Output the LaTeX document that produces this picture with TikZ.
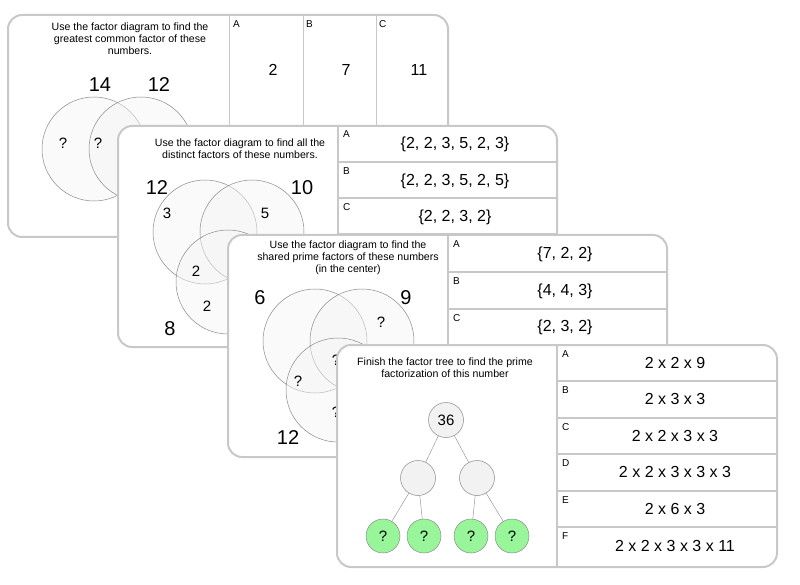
\documentclass[tikz,border=0pt]{standalone}
\usepackage{fontspec}
\setmainfont{Liberation Sans}
\usetikzlibrary{positioning}
\definecolor{cardline}{HTML}{C8C8C8}
\definecolor{ringline}{HTML}{8A8A8A}
\definecolor{leafgreen}{HTML}{98F59A}
\tikzset{card/.style={draw=cardline,line width=2pt,rounded corners=14pt,fill=white},
  sep/.style={draw=cardline,line width=1.6pt},
  colsep/.style={draw=cardline,line width=0.8pt},
  title/.style={align=center,font=\fontsize{10.6}{12}\selectfont,inner sep=0pt},
  letter/.style={anchor=north west,font=\fontsize{10}{10}\selectfont,inner sep=0pt},
  answer/.style={font=\fontsize{16}{18}\selectfont,inner sep=0pt},
  big/.style={font=\fontsize{20}{22}\selectfont,inner sep=0pt},
  qmark/.style={font=\fontsize{15}{16}\selectfont,inner sep=0pt},
  ring/.style={circle,draw=ringline,line width=0.5pt,fill=black!4,fill opacity=0.45,text opacity=1},
  treenode/.style={circle,draw=ringline,line width=0.5pt,fill=black!5,minimum size=35pt,inner sep=0pt,font=\fontsize{15}{16}\selectfont},
  leaf/.style={treenode,fill=leafgreen,minimum size=34pt}}
\begin{document}
\begin{tikzpicture}[x=1pt,y=-1pt]
    \useasboundingbox (0,0) rectangle (800,585);

    % card one
    \draw[card] (8,15) rectangle (448,237);
    \draw[colsep] (229,15) -- (229,237);
    \draw[colsep] (303,15) -- (303,237);
    \draw[colsep] (376,15) -- (376,237);
    \node[title] (title1) at (130,39) {Use the factor diagram to find the\\greatest common factor of these\\numbers.};
    \node[ring,minimum size=104pt] (left1) at (94,149) {};
    \node[ring,minimum size=104pt] (right1) at (141,149) {};
    \node[big] (num14) at (100,85) {14};
    \node[big] (num12) at (159,85) {12};
    \node[qmark] (q11) at (63,143) {?};
    \node[qmark] (q12) at (98,143) {?};
    \node[letter] (a1) at (233,20) {A};
    \node[letter] (b1) at (306,20) {B};
    \node[letter] (c1) at (379,20) {C};
    \node[answer] (v1a) at (273,70) {2};
    \node[answer] (v1b) at (346,70) {7};
    \node[answer] (v1c) at (419,70) {11};

    % card two
    \draw[card] (118,126) rectangle (557,347);
    \draw[sep] (338,126) -- (338,347);
    \draw[sep] (338,162) -- (557,162);
    \draw[sep] (338,198) -- (557,198);
    \draw[sep] (338,234) -- (557,234);
    \node[title] (title2) at (240,149) {Use the factor diagram to find all the\\distinct factors of these numbers.};
    \node[ring,minimum size=104pt] (left2) at (205,232) {};
    \node[ring,minimum size=104pt] (right2) at (252,232) {};
    \node[ring,minimum size=104pt] (low2) at (228,282) {};
    \node[big] (num12b) at (157,188) {12};
    \node[big] (num10) at (302,188) {10};
    \node[qmark] (n3) at (167,213) {3};
    \node[qmark] (n5) at (265,213) {5};
    \node[qmark] (n2a) at (196,271) {2};
    \node[qmark] (n2b) at (207,306) {2};
    \node[big] (num8) at (170,329) {8};
    \node[letter] (a2) at (343,130) {A};
    \node[letter] (b2) at (343,167) {B};
    \node[letter] (c2) at (343,203) {C};
    \node[answer] (v2a) at (455,144) {\{2, 2, 3, 5, 2, 3\}};
    \node[answer] (v2b) at (455,181) {\{2, 2, 3, 5, 2, 5\}};
    \node[answer] (v2c) at (455,217) {\{2, 2, 3, 2\}};

    % card three
    \draw[card] (228,235) rectangle (667,457);
    \draw[sep] (448,235) -- (448,457);
    \draw[sep] (448,272) -- (667,272);
    \draw[sep] (448,309) -- (667,309);
    \draw[sep] (448,346) -- (667,346);
    \node[title] (title3) at (348,258) {Use the factor diagram to find the\\shared prime factors of these numbers\\(in the center)};
    \node[ring,minimum size=104pt] (left3) at (315,341) {};
    \node[ring,minimum size=104pt] (right3) at (362,341) {};
    \node[ring,minimum size=104pt] (low3) at (338,390) {};
    \node[big] (num6) at (260,298) {6};
    \node[big] (num9) at (406,298) {9};
    \node[qmark] (q31) at (381,322) {?};
    \node[qmark] (q32) at (336,360) {?};
    \node[qmark] (q33) at (298,381) {?};
    \node[qmark] (q34) at (336,412) {?};
    \node[big] (num12c) at (288,438) {12};
    \node[letter] (a3) at (453,240) {A};
    \node[letter] (b3) at (453,277) {B};
    \node[letter] (c3) at (453,314) {C};
    \node[answer] (v3a) at (565,254) {\{7, 2, 2\}};
    \node[answer] (v3b) at (565,291) {\{4, 4, 3\}};
    \node[answer] (v3c) at (565,327) {\{2, 3, 2\}};

    % card four
    \draw[card] (337,345) rectangle (777,567);
    \draw[sep] (557,345) -- (557,567);
    \foreach \y in {381,418,454,491,527}
        \draw[sep] (557,\y) -- (777,\y);
    \node[title] (title4) at (445,368) {Finish the factor tree to find the prime\\factorization of this number};
    \node[treenode] (root) at (446,420) {36};
    \node[treenode] (midl) at (418,478) {};
    \node[treenode] (midr) at (477,478) {};
    \node[leaf] (leaf1) at (383,536) {?};
    \node[leaf] (leaf2) at (424,536) {?};
    \node[leaf] (leaf3) at (471,536) {?};
    \node[leaf] (leaf4) at (512,536) {?};
    \draw[ringline] (root) -- (midl);
    \draw[ringline] (root) -- (midr);
    \draw[ringline] (midl) -- (leaf1);
    \draw[ringline] (midl) -- (leaf2);
    \draw[ringline] (midr) -- (leaf3);
    \draw[ringline] (midr) -- (leaf4);
    \node[letter] (a4) at (562,350) {A};
    \node[letter] (b4) at (562,386) {B};
    \node[letter] (c4) at (562,423) {C};
    \node[letter] (d4) at (562,459) {D};
    \node[letter] (e4) at (562,496) {E};
    \node[letter] (f4) at (562,532) {F};
    \node[answer] (v4a) at (675,363) {2 x 2 x 9};
    \node[answer] (v4b) at (675,399) {2 x 3 x 3};
    \node[answer] (v4c) at (675,436) {2 x 2 x 3 x 3};
    \node[answer] (v4d) at (675,472) {2 x 2 x 3 x 3 x 3};
    \node[answer] (v4e) at (675,509) {2 x 6 x 3};
    \node[answer] (v4f) at (675,546) {2 x 2 x 3 x 3 x 11};
\end{tikzpicture}
\end{document}
